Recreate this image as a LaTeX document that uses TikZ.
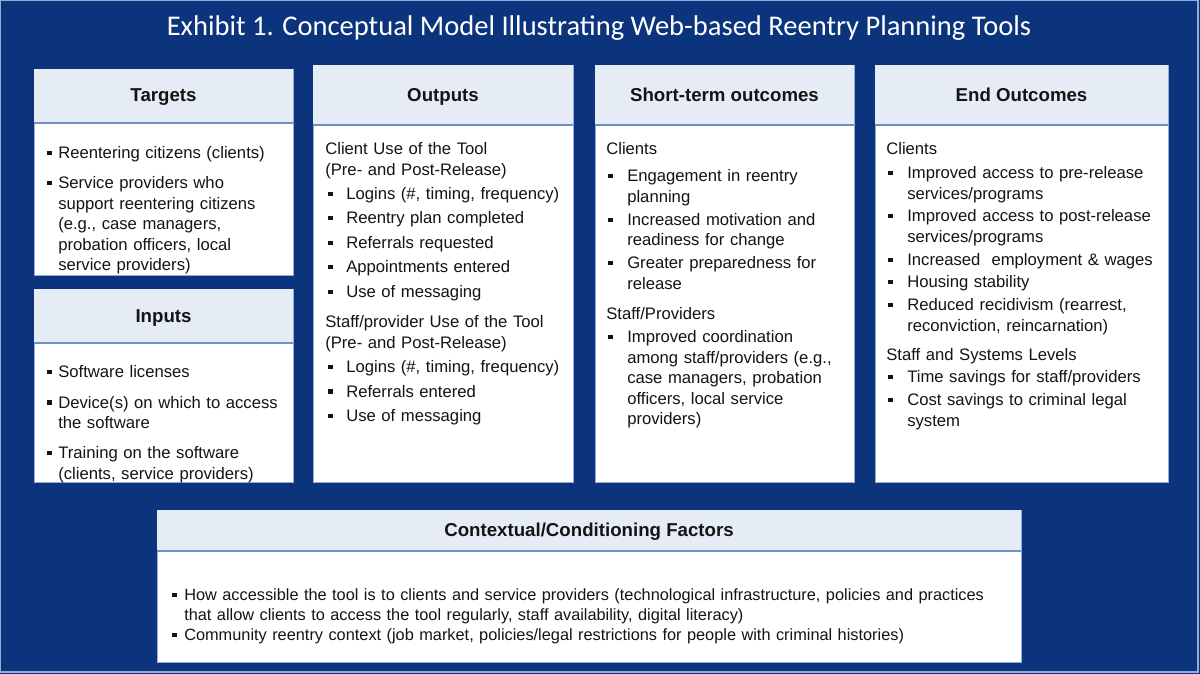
\documentclass[tikz,border=0pt]{standalone}
\usepackage{fontspec}
\setmainfont{Liberation Sans}
\newfontfamily\titlefont{Carlito}
\usetikzlibrary{positioning}

\definecolor{navy}{RGB}{11,52,124}
\definecolor{headfill}{RGB}{230,236,246}
\definecolor{rimblue}{RGB}{150,172,214}
\definecolor{splitblue}{RGB}{112,143,200}
\definecolor{inktext}{RGB}{20,20,20}

\newlength{\bulpre}
\newlength{\bulind}
\newcommand{\tstrut}{\rule{0pt}{11pt}}
\newcommand{\bulset}[3]{\setlength{\bulpre}{#1}\setlength{\bulind}{#2}\setlength{\parskip}{#3}}
\newcommand{\bul}[1]{\par\hangindent=\bulind\hangafter=1\noindent\tstrut\makebox[\bulind][l]{\hspace{\bulpre}\rule[2.6pt]{3.2pt}{3.2pt}}#1\par}
\newcommand{\grp}[1]{\par\noindent\tstrut#1\par}

\begin{document}
\begin{tikzpicture}[x=0.75pt,y=-0.75pt,
  panel/.style={fill=white,draw=rimblue,line width=0.6pt},
  split/.style={draw=splitblue,line width=1.1pt},
  headtext/.style={font=\fontsize{14}{16}\selectfont\bfseries,text=inktext,inner sep=0pt,anchor=base},
  bodytext/.style={anchor=north west,inner sep=0pt,text width=#1,align=left,
    font=\fontsize{12.5}{15.4}\selectfont,text=inktext}]

  \fill[navy] (0,0) rectangle (1200,674);
  \useasboundingbox (0,0) rectangle (1200,674);
  \draw[rimblue,line width=0.8pt] (0.5,0.5) rectangle (1198,672);

  \node[font=\titlefont\fontsize{21.4}{24}\selectfont,text=white,inner sep=0pt] (title) at (599,28)
    {Exhibit 1. Conceptual Model Illustrating Web-based Reentry Planning Tools};

  % targets
  \draw[panel] (34,69) rectangle (293,275);
  \fill[headfill] (34,69) rectangle (293,123);
  \draw[split] (34,123) -- (293,123);
  % inputs
  \draw[panel] (34,289) rectangle (293,482);
  \fill[headfill] (34,289) rectangle (293,343);
  \draw[split] (34,343) -- (293,343);
  % outputs
  \draw[panel] (313,65) rectangle (573,482);
  \fill[headfill] (313,65) rectangle (573,125);
  \draw[split] (313,125) -- (573,125);
  % short-term
  \draw[panel] (595,65) rectangle (854,482);
  \fill[headfill] (595,65) rectangle (854,125);
  \draw[split] (595,125) -- (854,125);
  % end outcomes
  \draw[panel] (875,65) rectangle (1168,482);
  \fill[headfill] (875,65) rectangle (1168,125);
  \draw[split] (875,125) -- (1168,125);
  % context
  \draw[panel] (157,510) rectangle (1021,662);
  \fill[headfill] (157,510) rectangle (1021,551);
  \draw[split] (157,551) -- (1021,551);

  \node[headtext] (targets) at (163.5,102) {Targets};
  \node[headtext] (inputs)  at (163.5,322) {Inputs};
  \node[headtext] (outputs) at (443,102) {Outputs};
  \node[headtext] (short)   at (724.5,102) {Short-term outcomes};
  \node[headtext] (endout)  at (1021.5,102) {End Outcomes};
  \node[headtext] (context) at (589,536) {Contextual/Conditioning Factors};

  \node[bodytext=185pt] (targetlist) at (47,128.3)
    {\bulset{0pt}{8.25pt}{7.1pt}%
     \bul{Reentering citizens (clients)}%
     \bul{Service providers who\newline support reentering citizens\newline (e.g., case managers,\newline probation officers, local\newline service providers)}};
  \node[bodytext=185pt] (inputlist) at (47,347.3)
    {\bulset{0pt}{8.25pt}{7.3pt}%
     \bul{Software licenses}%
     \bul{Device(s) on which to access\newline the software}%
     \bul{Training on the software\newline (clients, service providers)}};
  \node[bodytext=185pt,font=\fontsize{12.5}{15.75}\selectfont] (outputlist) at (325,129.3)
    {\bulset{2.25pt}{15.75pt}{2.6pt}%
     \grp{Client Use of the Tool\newline (Pre- and Post-Release)}%
     \bul{Logins (\#, timing, frequency)}%
     \bul{Reentry plan completed}%
     \bul{Referrals requested}%
     \bul{Appointments entered}%
     \bul{Use of messaging}%
     \vspace{4pt}\grp{Staff/provider Use of the Tool\newline (Pre- and Post-Release)}%
     \bul{Logins (\#, timing, frequency)}%
     \bul{Referrals entered}%
     \bul{Use of messaging}};
  \node[bodytext=185pt] (shortlist) at (606,131.3)
    {\bulset{1.5pt}{15.75pt}{1.9pt}%
     \grp{Clients}\vspace{3pt}%
     \bul{Engagement in reentry\newline planning}%
     \bul{Increased motivation and\newline readiness for change}%
     \bul{Greater preparedness for\newline release}%
     \vspace{5.2pt}\grp{Staff/Providers}%
     \bul{Improved coordination\newline among staff/providers (e.g.,\newline case managers, probation\newline officers, local service\newline providers)}};
  \node[bodytext=210pt,font=\fontsize{12.5}{15.6}\selectfont] (endlist) at (886,131.3)
    {\bulset{1.5pt}{15.75pt}{1.3pt}%
     \grp{Clients}\vspace{1.5pt}%
     \bul{Improved access to pre-release\newline services/programs}%
     \bul{Improved access to post-release\newline services/programs}%
     \bul{Increased\ \ employment \& wages}%
     \bul{Housing stability}%
     \bul{Reduced recidivism (rearrest,\newline reconviction, reincarnation)}%
     \vspace{5pt}\grp{Staff and Systems Levels}%
     \bul{Time savings for staff/providers}%
     \bul{Cost savings to criminal legal\newline system}};
  \node[bodytext=636pt,font=\fontsize{12.25}{15}\selectfont] (contextlist) at (172,580.3)
    {\bulset{0pt}{9pt}{0pt}%
     \bul{How accessible the tool is to clients and service providers (technological infrastructure, policies and practices\newline that allow clients to access the tool regularly, staff availability, digital literacy)}%
     \bul{Community reentry context (job market, policies/legal restrictions for people with criminal histories)}};
\end{tikzpicture}
\end{document}
